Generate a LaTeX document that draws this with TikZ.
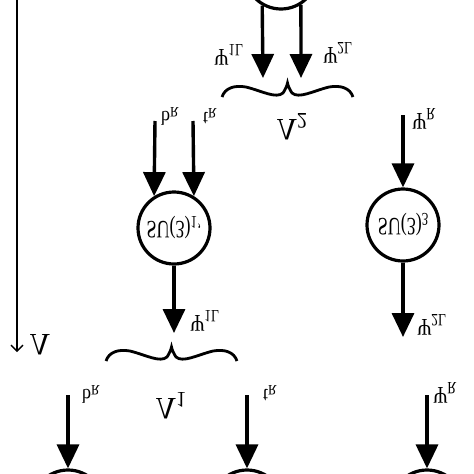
\documentclass[tikz,border=0pt]{standalone}
\usepackage{fontspec}
\setmainfont{Liberation Serif}
\usetikzlibrary{arrows.meta}
\newcommand{\flp}[2][1]{\scalebox{#1}[-1]{#2}}
\newcommand{\sbs}[1]{\raisebox{-0.2em}{\scalebox{0.72}{#1}}}
\begin{document}
\begin{tikzpicture}[x=1pt,y=-1pt,
  grp/.style={circle,draw,line width=3.2pt,minimum size=72pt,inner sep=0pt,
    font=\fontsize{25}{27}\selectfont},
  fl/.style={-{Triangle[length=24pt,width=22pt]},line width=3.4pt},
  scaleax/.style={-{Straight Barb[length=6pt,width=12pt]},line width=1.4pt},
  brc/.style={line width=2.8pt},
  lab/.style={inner sep=0pt,font=\fontsize{24}{26}\selectfont},
  slab/.style={inner sep=0pt,font=\fontsize{20}{22}\selectfont},
  big/.style={inner sep=0pt,font=\fontsize{31}{33}\selectfont}]
\useasboundingbox (0,0) rectangle (474,474);
\clip (0,0) rectangle (474,474);
% groups
\node[grp] (g0) at (281,-27) {};
\node[grp] (g1) at (174,228) {\flp[0.72]{SU(3)\sbs{1'}}};
\node[grp] (g3) at (403,225) {\flp[0.72]{SU(3)\sbs{3}}};
\node[grp] (ga) at (68,506) {};
\node[grp] (gb) at (247,506) {};
\node[grp] (gc) at (427,506) {};
% coordinates
\coordinate (t1) at (263,78);
\coordinate (t2) at (301,78);
\coordinate (sb) at (155,121);
\coordinate (st) at (193,121);
\coordinate (sp) at (403,115);
\coordinate (d1) at (174,333);
\coordinate (d3) at (403,337);
\coordinate (ba) at (68,395);
\coordinate (bb) at (247,395);
\coordinate (bc) at (427,395);
\coordinate (ltop) at (17,-2);
\coordinate (lbot) at (17,352);
% arrows
\draw[fl] (g0.240) -- (t1);
\draw[fl] (g0.302) -- (t2);
\draw[fl] (sb) -- (g1.122);
\draw[fl] (st) -- (g1.58);
\draw[fl] (sp) -- (g3.north);
\draw[fl] (g1.south) -- (d1);
\draw[fl] (g3.south) -- (d3);
\draw[fl] (ba) -- (ga.north);
\draw[fl] (bb) -- (gb.north);
\draw[fl] (bc) -- (gc.north);
\draw[scaleax] (ltop) -- (lbot);
% braces
\foreach \bx/\by in {222/97, 106/361} {
  \begin{scope}[shift={(\bx,\by)}]
    \draw[brc] (0,0) .. controls (3,-9) and (12,-12) .. (24,-10)
      .. controls (40,-6) and (54,2) .. (61,-4)
      .. controls (63,-7) and (65,-11) .. (65.5,-14)
      .. controls (66,-11) and (68,-7) .. (70,-4)
      .. controls (77,2) and (91,-6) .. (107,-10)
      .. controls (119,-12) and (128,-9) .. (131,0);
  \end{scope}
}
% labels
\node[lab] (l1) at (229,55) {\flp[0.78]{Ψ\sbs{1L}}};
\node[lab] (l2) at (338,53) {\flp[0.78]{Ψ\sbs{2L}}};
\node[big] (lam2) at (292,127) {\flp[0.9]{Λ\sbs{2}}};
\node[slab] (lb1) at (170,116) {\flp[0.9]{b\sbs{R}}};
\node[slab] (lt1) at (210,116) {\flp[0.9]{t\sbs{R}}};
\node[lab] (lpr1) at (424,119) {\flp[0.78]{Ψ\sbs{R}}};
\node[lab] (l1b) at (205,321) {\flp[0.78]{Ψ\sbs{1L}}};
\node[lab] (l2b) at (432,325) {\flp[0.78]{Ψ\sbs{2L}}};
\node[big] (lam) at (40,345) {\flp[0.9]{Λ}};
\node[big] (lam1) at (171,406) {\flp[0.9]{Λ\sbs{1}}};
\node[slab] (lb2) at (91,394) {\flp[0.9]{b\sbs{R}}};
\node[slab] (lt2) at (270,393) {\flp[0.9]{t\sbs{R}}};
\node[lab] (lpr2) at (445,393) {\flp[0.78]{Ψ\sbs{R}}};
\end{tikzpicture}
\end{document}
